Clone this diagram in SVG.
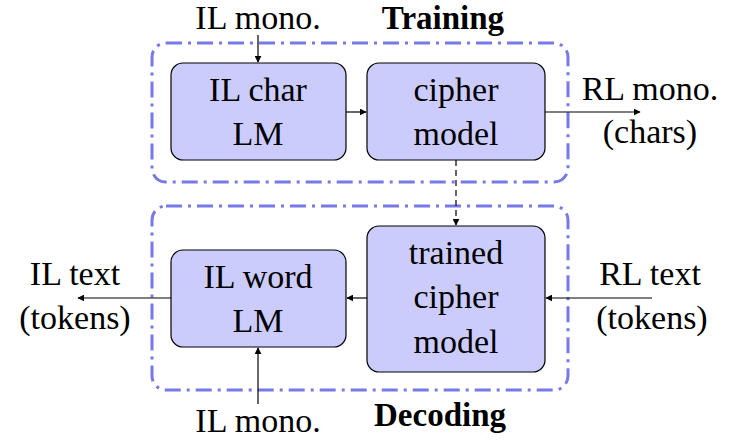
<svg xmlns="http://www.w3.org/2000/svg" width="732" height="440" viewBox="0 0 732 440">
<defs>
<marker id="a" viewBox="0 0 10 10" refX="9" refY="5" markerWidth="7" markerHeight="7" orient="auto" markerUnits="userSpaceOnUse"><path d="M0,0 L10,5 L0,10 z" fill="#000"/></marker>
</defs>
<style>
text{font-family:"Liberation Serif","Times New Roman",serif;font-size:34px;text-anchor:middle;fill:#000}
.b{font-weight:bold;font-size:33px}
.g{fill:none;stroke:#7878e8;stroke-width:3;stroke-dasharray:16 6 3 6}
.n{fill:#ccccfc;stroke:#000;stroke-width:1.2}
.c{stroke:#000;stroke-width:1.2;fill:none;marker-end:url(#a)}
</style>
<rect width="732" height="440" fill="#fff"/>
<g id="training"><rect class="g" x="152" y="43" width="416" height="139" rx="14"/><text class="b" x="443" y="29">Training</text></g>
<g id="decoding"><rect class="g" x="152" y="206" width="416" height="184" rx="14"/><text class="b" x="440" y="426">Decoding</text></g>
<g id="ilchar"><rect class="n" x="171" y="63" width="175" height="97" rx="12"/><text x="258" y="101">IL char</text><text x="258" y="145">LM</text></g>
<g id="cipher"><rect class="n" x="367" y="63" width="178" height="97" rx="12"/><text x="456" y="101">cipher</text><text x="456" y="145">model</text></g>
<g id="trained"><rect class="n" x="367" y="226" width="178" height="146" rx="12"/><text x="456" y="264">trained</text><text x="456" y="308">cipher</text><text x="456" y="353">model</text></g>
<g id="ilword"><rect class="n" x="171" y="250" width="175" height="97" rx="12"/><text x="258" y="288">IL word</text><text x="258" y="332">LM</text></g>
<g id="labels">
<text x="258" y="29">IL mono.</text>
<text x="650" y="100">RL mono.</text><text x="650" y="143">(chars)</text>
<text x="650" y="285">RL text</text><text x="652" y="329">(tokens)</text>
<text x="75" y="285">IL text</text><text x="75" y="329">(tokens)</text>
<text x="258" y="432">IL mono.</text>
</g>
<g id="connectors">
<path class="c" d="M258,35 V62"/>
<path class="c" d="M346,112 H366"/>
<path class="c" d="M545,112 H640"/>
<path class="c" d="M456,160 V225" stroke-dasharray="6 4"/>
<path class="c" d="M652,298 H546"/>
<path class="c" d="M367,298 H347"/>
<path class="c" d="M171,298 H78"/>
<path class="c" d="M258,404 V348"/>
</g>
</svg>
